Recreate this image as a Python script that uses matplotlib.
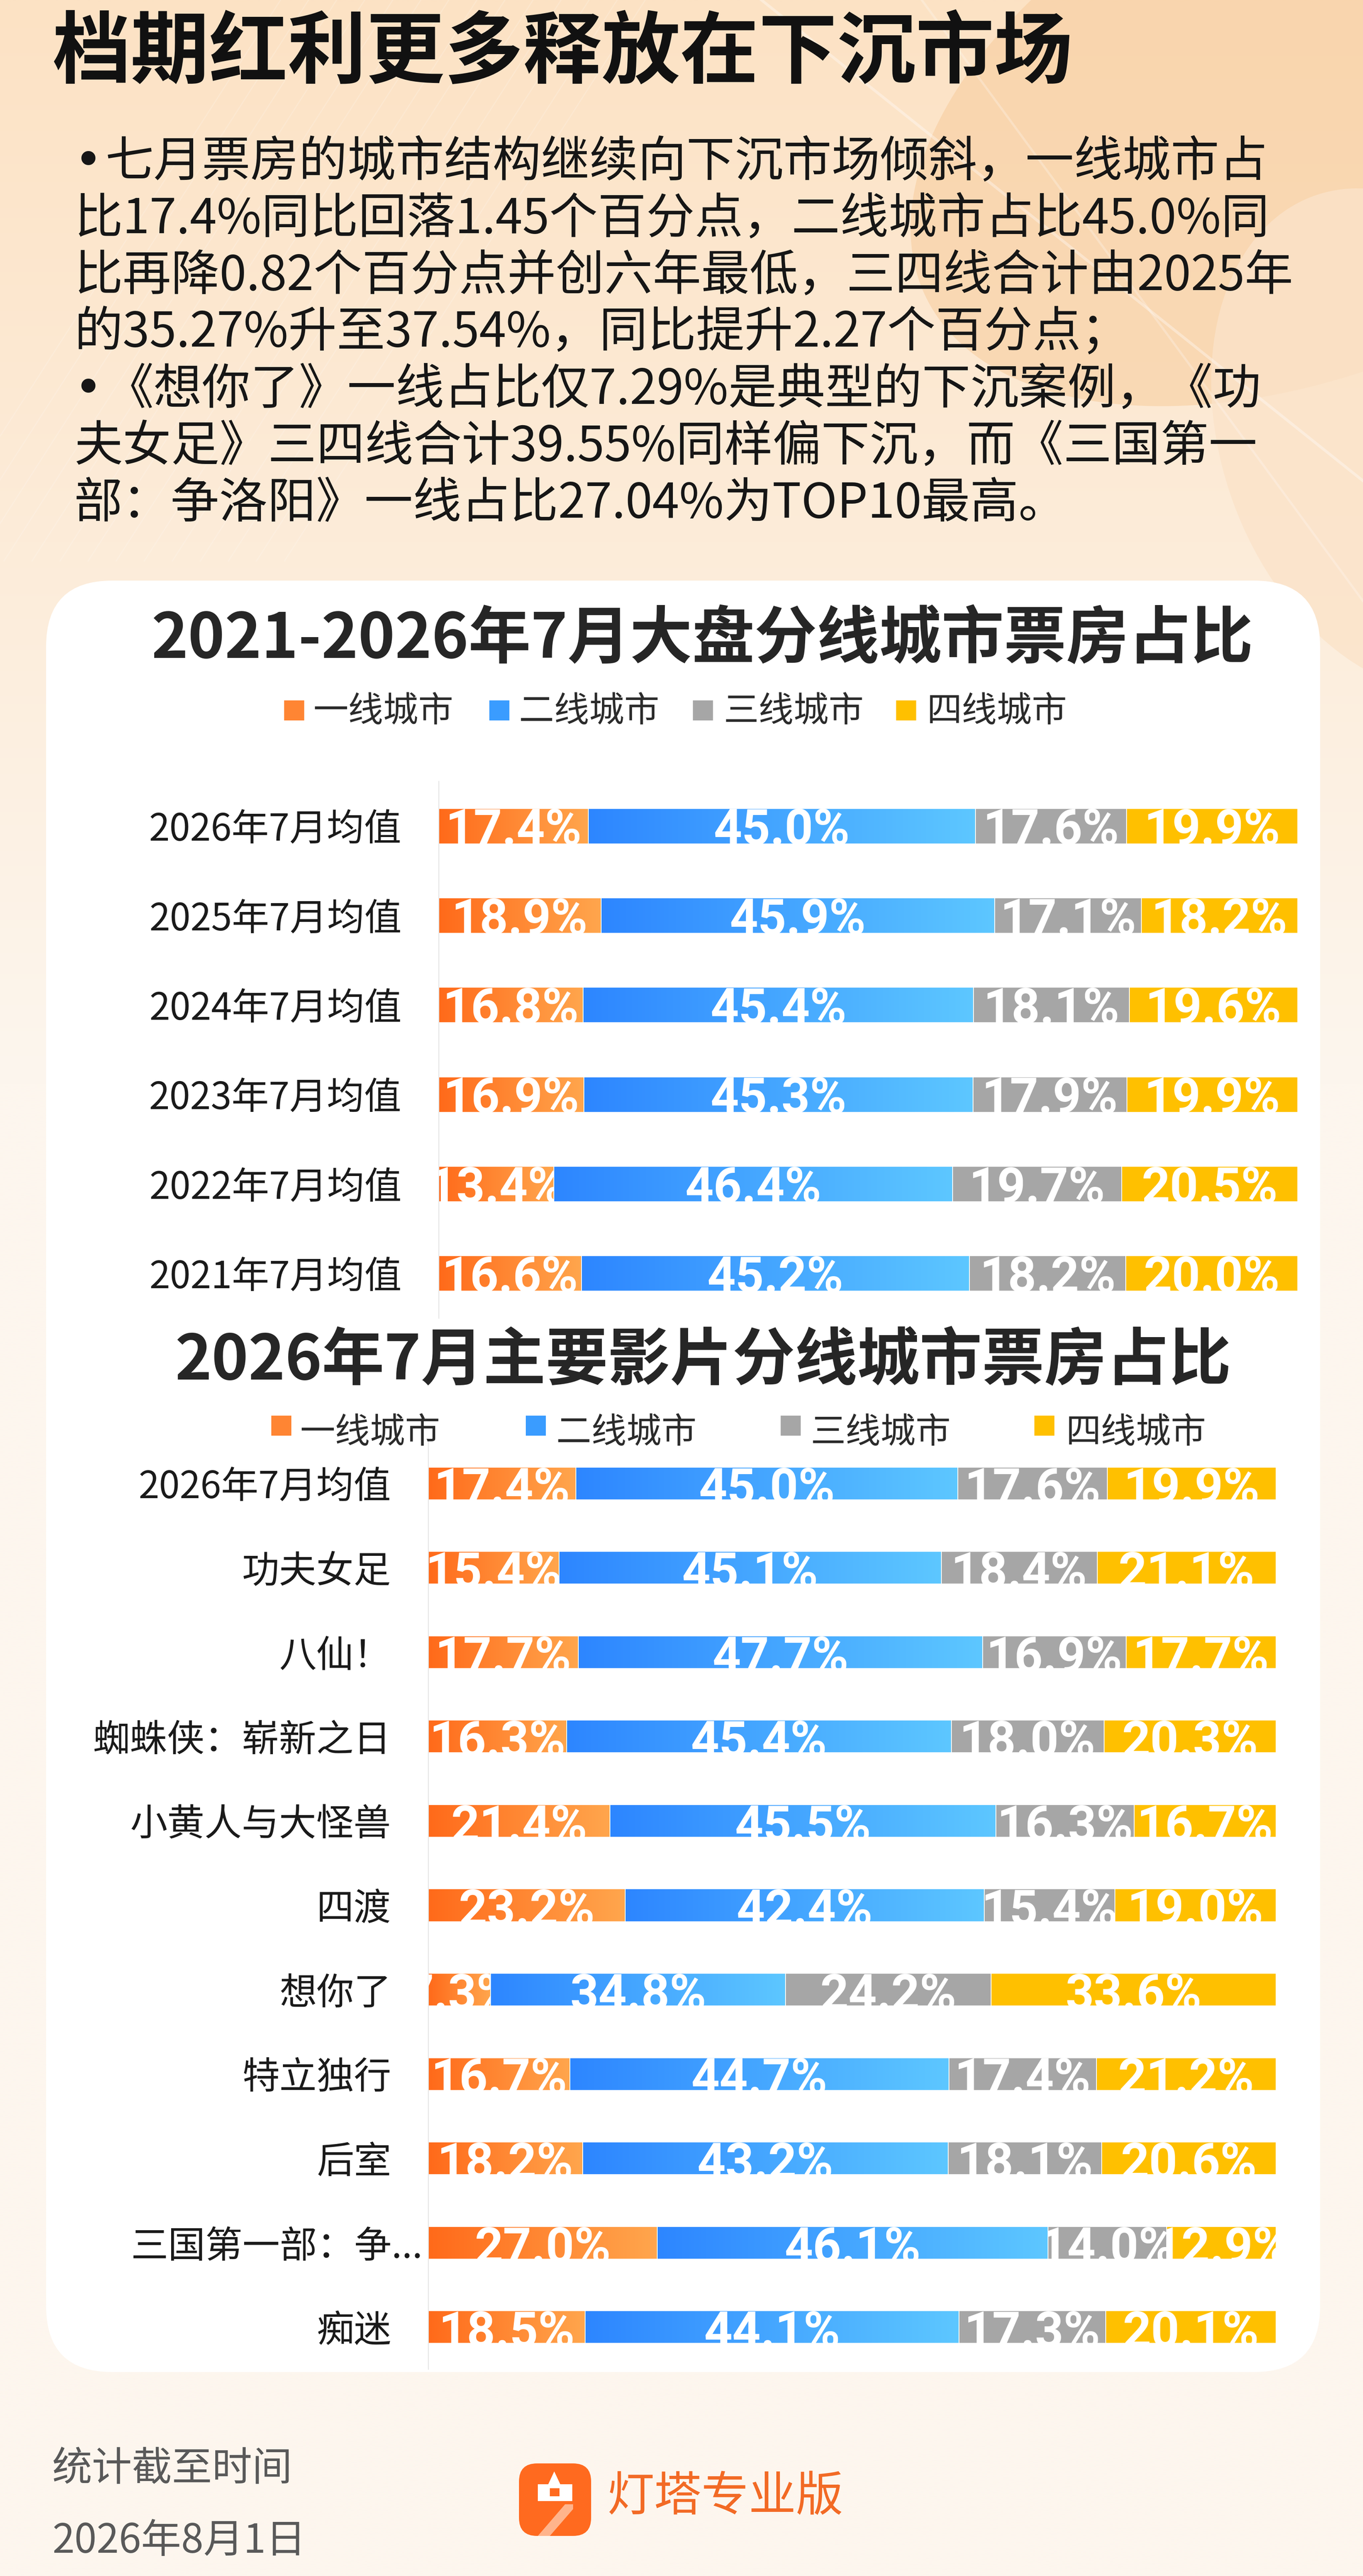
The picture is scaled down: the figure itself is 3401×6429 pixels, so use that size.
import numpy as np
import matplotlib
matplotlib.use('Agg')
import matplotlib.pyplot as plt
from matplotlib.patches import FancyBboxPatch, Rectangle, Ellipse, Polygon
from matplotlib.colors import LinearSegmentedColormap, to_rgb

# ---------------- data ----------------
main_title = "档期红利更多释放在下沉市场"
summary_lines = [
    "• 七月票房的城市结构继续向下沉市场倾斜，一线城市占",
    "比17.4%同比回落1.45个百分点，二线城市占比45.0%同",
    "比再降0.82个百分点并创六年最低，三四线合计由2025年",
    "的35.27%升至37.54%，同比提升2.27个百分点；",
    "• 《想你了》一线占比仅7.29%是典型的下沉案例，《功",
    "夫女足》三四线合计39.55%同样偏下沉，而《三国第一",
    "部：争洛阳》一线占比27.04%为TOP10最高。",
]
tiers = ["一线城市", "二线城市", "三线城市", "四线城市"]

chart1_title = "2021-2026年7月大盘分线城市票房占比"
years = ["2026年7月均值", "2025年7月均值", "2024年7月均值",
         "2023年7月均值", "2022年7月均值", "2021年7月均值"]
yr_tier1 = [17.4, 18.9, 16.8, 16.9, 13.4, 16.6]
yr_tier2 = [45.0, 45.9, 45.4, 45.3, 46.4, 45.2]
yr_tier3 = [17.6, 17.1, 18.1, 17.9, 19.7, 18.2]
yr_tier4 = [19.9, 18.2, 19.6, 19.9, 20.5, 20.0]

chart2_title = "2026年7月主要影片分线城市票房占比"
films = ["2026年7月均值", "功夫女足", "八仙！", "蜘蛛侠：崭新之日", "小黄人与大怪兽",
         "四渡", "想你了", "特立独行", "后室", "三国第一部：争...", "痴迷"]
film_tier1 = [17.4, 15.4, 17.7, 16.3, 21.4, 23.2, 7.3, 16.7, 18.2, 27.0, 18.5]
film_tier2 = [45.0, 45.1, 47.7, 45.4, 45.5, 42.4, 34.8, 44.7, 43.2, 46.1, 44.1]
film_tier3 = [17.6, 18.4, 16.9, 18.0, 16.3, 15.4, 24.2, 17.4, 18.1, 14.0, 17.3]
film_tier4 = [19.9, 21.1, 17.7, 20.3, 16.7, 19.0, 33.6, 21.2, 20.6, 12.9, 20.1]

footer_label = "统计截至时间"
footer_date = "2026年8月1日"
brand = "灯塔专业版"

# ---------------- style ----------------
W, H, DPI = 3401, 6429, 100
CJK = ['Noto Sans CJK SC', 'DejaVu Sans']
NUM = ['Roboto', 'DejaVu Sans']
plt.rcParams['font.family'] = CJK

tier_grad = [('#FF6A1A', '#FFA64D'), ('#2D86FF', '#5DC7FF'), None, None]
tier_solid = ['#FF8533', '#3A9CFF', '#A6A6A6', '#FFC000']

fig = plt.figure(figsize=(W / DPI, H / DPI), dpi=DPI)


def fx(x):
    return x / W


def fy(y):
    return 1 - y / H


def ftext(x, y, s, **kw):
    return fig.text(fx(x), fy(y), s, **kw)


# ---------------- background ----------------
bg = fig.add_axes([0, 0, 1, 1], zorder=-10)
bg.set_xlim(0, W)
bg.set_ylim(H, 0)
bg.axis('off')
ys = np.linspace(0, 1, 500)
c_top = np.array(to_rgb('#FCE2C4'))
c_bot = np.array(to_rgb('#FDF6EE'))
t = np.clip(ys / 0.42, 0, 1)[:, None]
grad_bg = c_top[None, :] * (1 - t) + c_bot[None, :] * t
bg.imshow(np.repeat(grad_bg[:, None, :], 2, axis=1), extent=[0, W, H, 0],
          aspect='auto', interpolation='bilinear', zorder=0)
bg.add_patch(Ellipse((3350, 250), 2300, 1300, angle=-25, fc='#F8CC9C', ec='none', alpha=0.55, zorder=1))
bg.add_patch(Ellipse((3500, 1100), 900, 1300, angle=-20, fc='#FBE3C9', ec='none', alpha=0.8, zorder=1))
for k in range(14):
    x0 = -200 + k * 70
    bg.plot([x0, x0 + 900], [1400, 0], color='white', alpha=0.18, lw=2, zorder=1)
bg.plot([1900, 3401], [0, 1200], color='white', alpha=0.35, lw=5, zorder=1)
bg.plot([2300, 3401], [0, 1500], color='white', alpha=0.25, lw=4, zorder=1)

# white panel
bg.add_patch(FancyBboxPatch((115, 1449), 3294 - 115, 5920 - 1449,
                            boxstyle='round,pad=0,rounding_size=165',
                            fc='white', ec='none', zorder=2))

# ---------------- header text ----------------
ftext(131, 135, main_title, fontsize=141, fontweight='heavy', color='#111111',
      ha='left', va='center')
line_y0, line_dy = 406, 142
for i, ln in enumerate(summary_lines):
    y = line_y0 + i * line_dy
    if ln.startswith("• "):
        ftext(185, y, "•", fontsize=87, color='#161616', ha='left', va='center',
              family=['DejaVu Sans'])
        ftext(262, y, ln[2:], fontsize=87, color='#161616', ha='left', va='center')
    else:
        ftext(185, y, ln, fontsize=87, color='#161616', ha='left', va='center')


# ---------------- charts ----------------
VAL_PT = 89
VAL_CAP_PX = 0.711 * VAL_PT / 0.72


def draw_chart(rect_px, cats, series, bar_h, label_pad_pt, special_pad=None):
    x0, y0, x1, y1 = rect_px
    ax = fig.add_axes([fx(x0), fy(y1), fx(x1 - x0), (y1 - y0) / H])
    ax.patch.set_alpha(0)
    vals = np.array(series, dtype=float).T
    totals = vals.sum(axis=1)
    share = vals / totals[:, None] * 100
    n = len(cats)
    ypos = np.arange(n)
    left = np.zeros(n)
    px_per_unit = (y1 - y0) / n
    gradient = np.linspace(0, 1, 256)[None, :]
    for k in range(4):
        bars = ax.barh(ypos, share[:, k], left=left, height=bar_h,
                       color=tier_solid[k], edgecolor='none', zorder=2)
        cmap = None
        if tier_grad[k] is not None:
            cmap = LinearSegmentedColormap.from_list('g%d' % k, list(tier_grad[k]))
        for i, b in enumerate(bars):
            l, w = left[i], share[i, k]
            if cmap is not None:
                im = ax.imshow(gradient, cmap=cmap, aspect='auto',
                               extent=[l, l + w, ypos[i] + bar_h / 2, ypos[i] - bar_h / 2],
                               interpolation='bilinear', zorder=2.1)
                im.set_clip_path(b)
            base = ypos[i] - bar_h / 2 + (3 + VAL_CAP_PX) / px_per_unit
            txt = ax.text(l + w / 2, base, f"{vals[i, k]:.1f}%", ha='center', va='baseline',
                          color='white', fontsize=VAL_PT, fontweight='bold', family=NUM,
                          zorder=3, clip_on=True)
            txt.set_clip_path(b)
        ax.barh(ypos, share[:, k], left=left, height=bar_h, fill=False,
                edgecolor='white', linewidth=1.2, zorder=2.5)
        left = left + share[:, k]
    ax.set_xlim(0, 100)
    ax.set_ylim(n - 0.5, -0.5)
    for s in ['top', 'right', 'bottom']:
        ax.spines[s].set_visible(False)
    ax.spines['left'].set_color('#E4E4E4')
    ax.spines['left'].set_linewidth(1.5)
    ax.set_xticks([])
    ax.set_yticks(ypos)
    ax.set_yticklabels(cats, fontsize=67, color='#1a1a1a', family=CJK)
    ax.tick_params(axis='y', length=0, pad=label_pad_pt)
    if special_pad:
        for idx, p in special_pad.items():
            ax.yaxis.get_major_ticks()[idx].set_pad(p)
    return ax


def draw_legend(mark_x, text_x, y_text, y_mark):
    for k in range(4):
        fig.patches.append(Rectangle((fx(mark_x[k]), fy(y_mark + 25)), 50 / W, 50 / H,
                                     transform=fig.transFigure, fc=tier_solid[k], ec='none'))
        ftext(text_x[k], y_text, tiers[k], fontsize=63, color='#2b2b2b', ha='left', va='center')


# chart 1
ftext(1752, 1597, chart1_title, fontsize=112, fontweight='bold', color='#262626',
      ha='center', va='center')
draw_legend([709, 1221, 1729, 2236], [781, 1295, 1805, 2312], 1777, 1773)
draw_chart((1095, 1950, 3238, 3290), years, [yr_tier1, yr_tier2, yr_tier3, yr_tier4],
           0.395, 67)

# chart 2
ftext(1754, 3398, chart2_title, fontsize=112, fontweight='bold', color='#262626',
      ha='center', va='center')
draw_legend([677, 1312, 1948, 2581], [748, 1388, 2022, 2659], 3577, 3558)
draw_chart((1069, 3597, 3184, 5913), films, [film_tier1, film_tier2, film_tier3, film_tier4],
           0.385, 67, special_pad={9: 10})

# ---------------- footer ----------------
ftext(130, 6162, footer_label, fontsize=72, color='#595959', ha='left', va='center')
ftext(130, 6342, footer_date, fontsize=72, color='#595959', ha='left', va='center')

bg.add_patch(FancyBboxPatch((1295, 6148), 180, 181, boxstyle='round,pad=0,rounding_size=45',
                            fc='#FF6A1F', ec='none', zorder=3))
bg.add_patch(Polygon([(1383, 6168), (1398, 6200), (1428, 6200), (1428, 6242),
                      (1342, 6242), (1342, 6200), (1368, 6200)],
                     closed=True, fc='white', ec='none', zorder=4))
bg.add_patch(Rectangle((1372, 6210), 24, 20, fc='#FF6A1F', ec='none', zorder=5))
bg.add_patch(Polygon([(1342, 6329), (1372, 6329), (1430, 6262), (1430, 6250), (1410, 6250)],
                     closed=True, fc='#FFB48C', ec='none', zorder=4))
ftext(1515, 6233, brand, fontsize=85, color='#F26A25', ha='left', va='center')

fig.savefig('out.png', dpi=DPI)
